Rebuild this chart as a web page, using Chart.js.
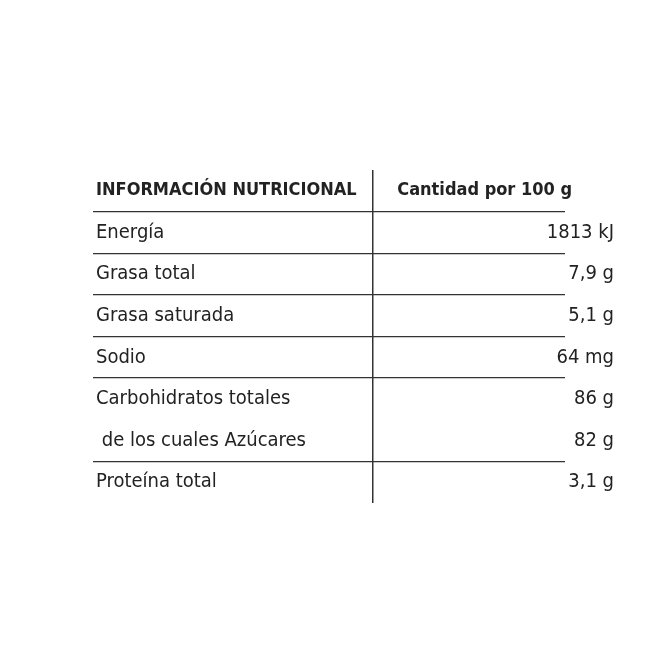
<!DOCTYPE html>
<html>
<head>
<meta charset="utf-8">
<script src="https://cdn.jsdelivr.net/npm/chart.js@4"></script>
<style>
html,body{margin:0;padding:0;background:#fff;}
#wrap{width:667px;height:668px;}
</style>
</head>
<body>
<div id="wrap"><canvas id="tabla"></canvas></div>
<script>
const encabezado = "INFORMACIÓN NUTRICIONAL";
const encabezadoValor = "Cantidad por 100 g";
const nutrientes = ["Energía","Grasa total","Grasa saturada","Sodio","Carbohidratos totales"," de los cuales Azúcares","Proteína total"];
const cantidades = ["1813 kJ","7,9 g","5,1 g","64 mg","86 g","82 g","3,1 g"];

const filas = [encabezado].concat(nutrientes);
const valores = [""].concat(cantidades);
const soloEncabezado = [encabezadoValor].concat(nutrientes.map(() => ""));

const fuente = "'DejaVu Sans Condensed','Liberation Sans Narrow',sans-serif";
const sinLinea = [0, 6];
const sinAncho = s => { s.width = 0; };

const ctx = document.getElementById("tabla");

new Chart(ctx, {
type: "bar",
data: {
labels: filas,
datasets: [{ data: filas.map(() => null), yAxisID: "y" }]
},
options: {
responsive: true,
maintainAspectRatio: false,
animation: false,
indexAxis: "y",
layout: { padding: { left: 93, right: 102, top: 170, bottom: 165 } },
plugins: { legend: { display: false }, tooltip: { enabled: false } },
scales: {
x: {
type: "linear", min: 0, max: 472,
afterBuildTicks: s => { s.ticks = [{ value: 280 }]; },
ticks: { display: false },
grid: { color: "#333", lineWidth: 1.5, drawTicks: false },
border: { display: false }
},
y: {
type: "category", position: "left", labels: filas, afterFit: sinAncho,
ticks: {
mirror: true, padding: 3, color: "#222",
font: c => c.index === 0 ? { family: fuente, size: 18, weight: "bold" } : { family: fuente, size: 20 }
},
grid: {
offset: true, drawTicks: false, lineWidth: 1.3,
color: c => (c.index === undefined || c.index >= filas.length || sinLinea.includes(c.index)) ? "rgba(0,0,0,0)" : "#333"
},
border: { display: false }
},
yv: {
type: "category", position: "right", labels: valores, afterFit: sinAncho,
ticks: { mirror: true, padding: 49, color: "#222", font: { family: fuente, size: 20 } },
grid: { display: false, drawTicks: false }, border: { display: false }
},
yh: {
type: "category", position: "right", labels: soloEncabezado, afterFit: sinAncho,
ticks: { mirror: true, padding: 7, color: "#222", font: { family: fuente, size: 18, weight: "bold" } },
grid: { display: false, drawTicks: false }, border: { display: false }
}
}
}
});
</script>
</body>
</html>
